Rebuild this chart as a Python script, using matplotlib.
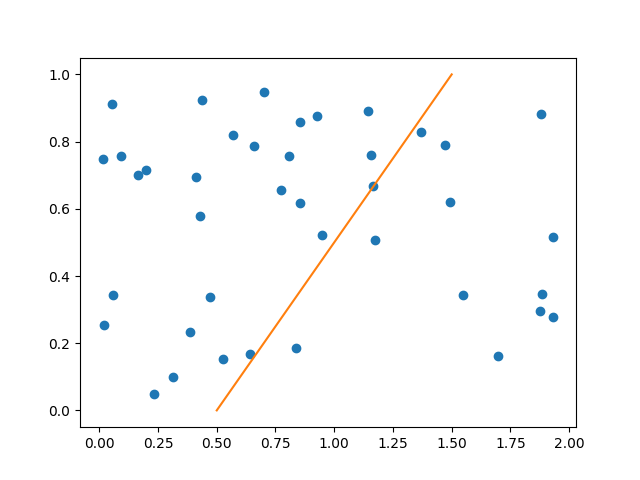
import matplotlib
matplotlib.use("Agg")
import matplotlib.pyplot as plt

x_vals = [0.014, 0.053, 0.091, 0.164, 0.198, 0.019, 0.057, 0.232, 0.313, 0.385,
          0.411, 0.428, 0.436, 0.471, 0.526, 0.569, 0.641, 0.658, 0.701, 0.773,
          0.807, 0.837, 0.854, 0.854, 0.927, 0.948, 1.144, 1.157, 1.166, 1.174,
          1.370, 1.473, 1.494, 1.550, 1.699, 1.878, 1.874, 1.886, 1.929, 1.933]
y_vals = [0.749, 0.913, 0.758, 0.701, 0.716, 0.255, 0.344, 0.050, 0.100, 0.234,
          0.695, 0.579, 0.925, 0.338, 0.154, 0.820, 0.169, 0.788, 0.948, 0.657,
          0.758, 0.187, 0.859, 0.618, 0.877, 0.523, 0.892, 0.761, 0.669, 0.508,
          0.829, 0.791, 0.621, 0.344, 0.163, 0.881, 0.297, 0.347, 0.517, 0.279]
line_x = [0.5, 1.5]
line_y = [0.0, 1.0]

fig, ax = plt.subplots(figsize=(6.4, 4.8), dpi=100)
ax.scatter(x_vals, y_vals)
ax.plot(line_x, line_y, color="C1")
fig.savefig("out.png")
